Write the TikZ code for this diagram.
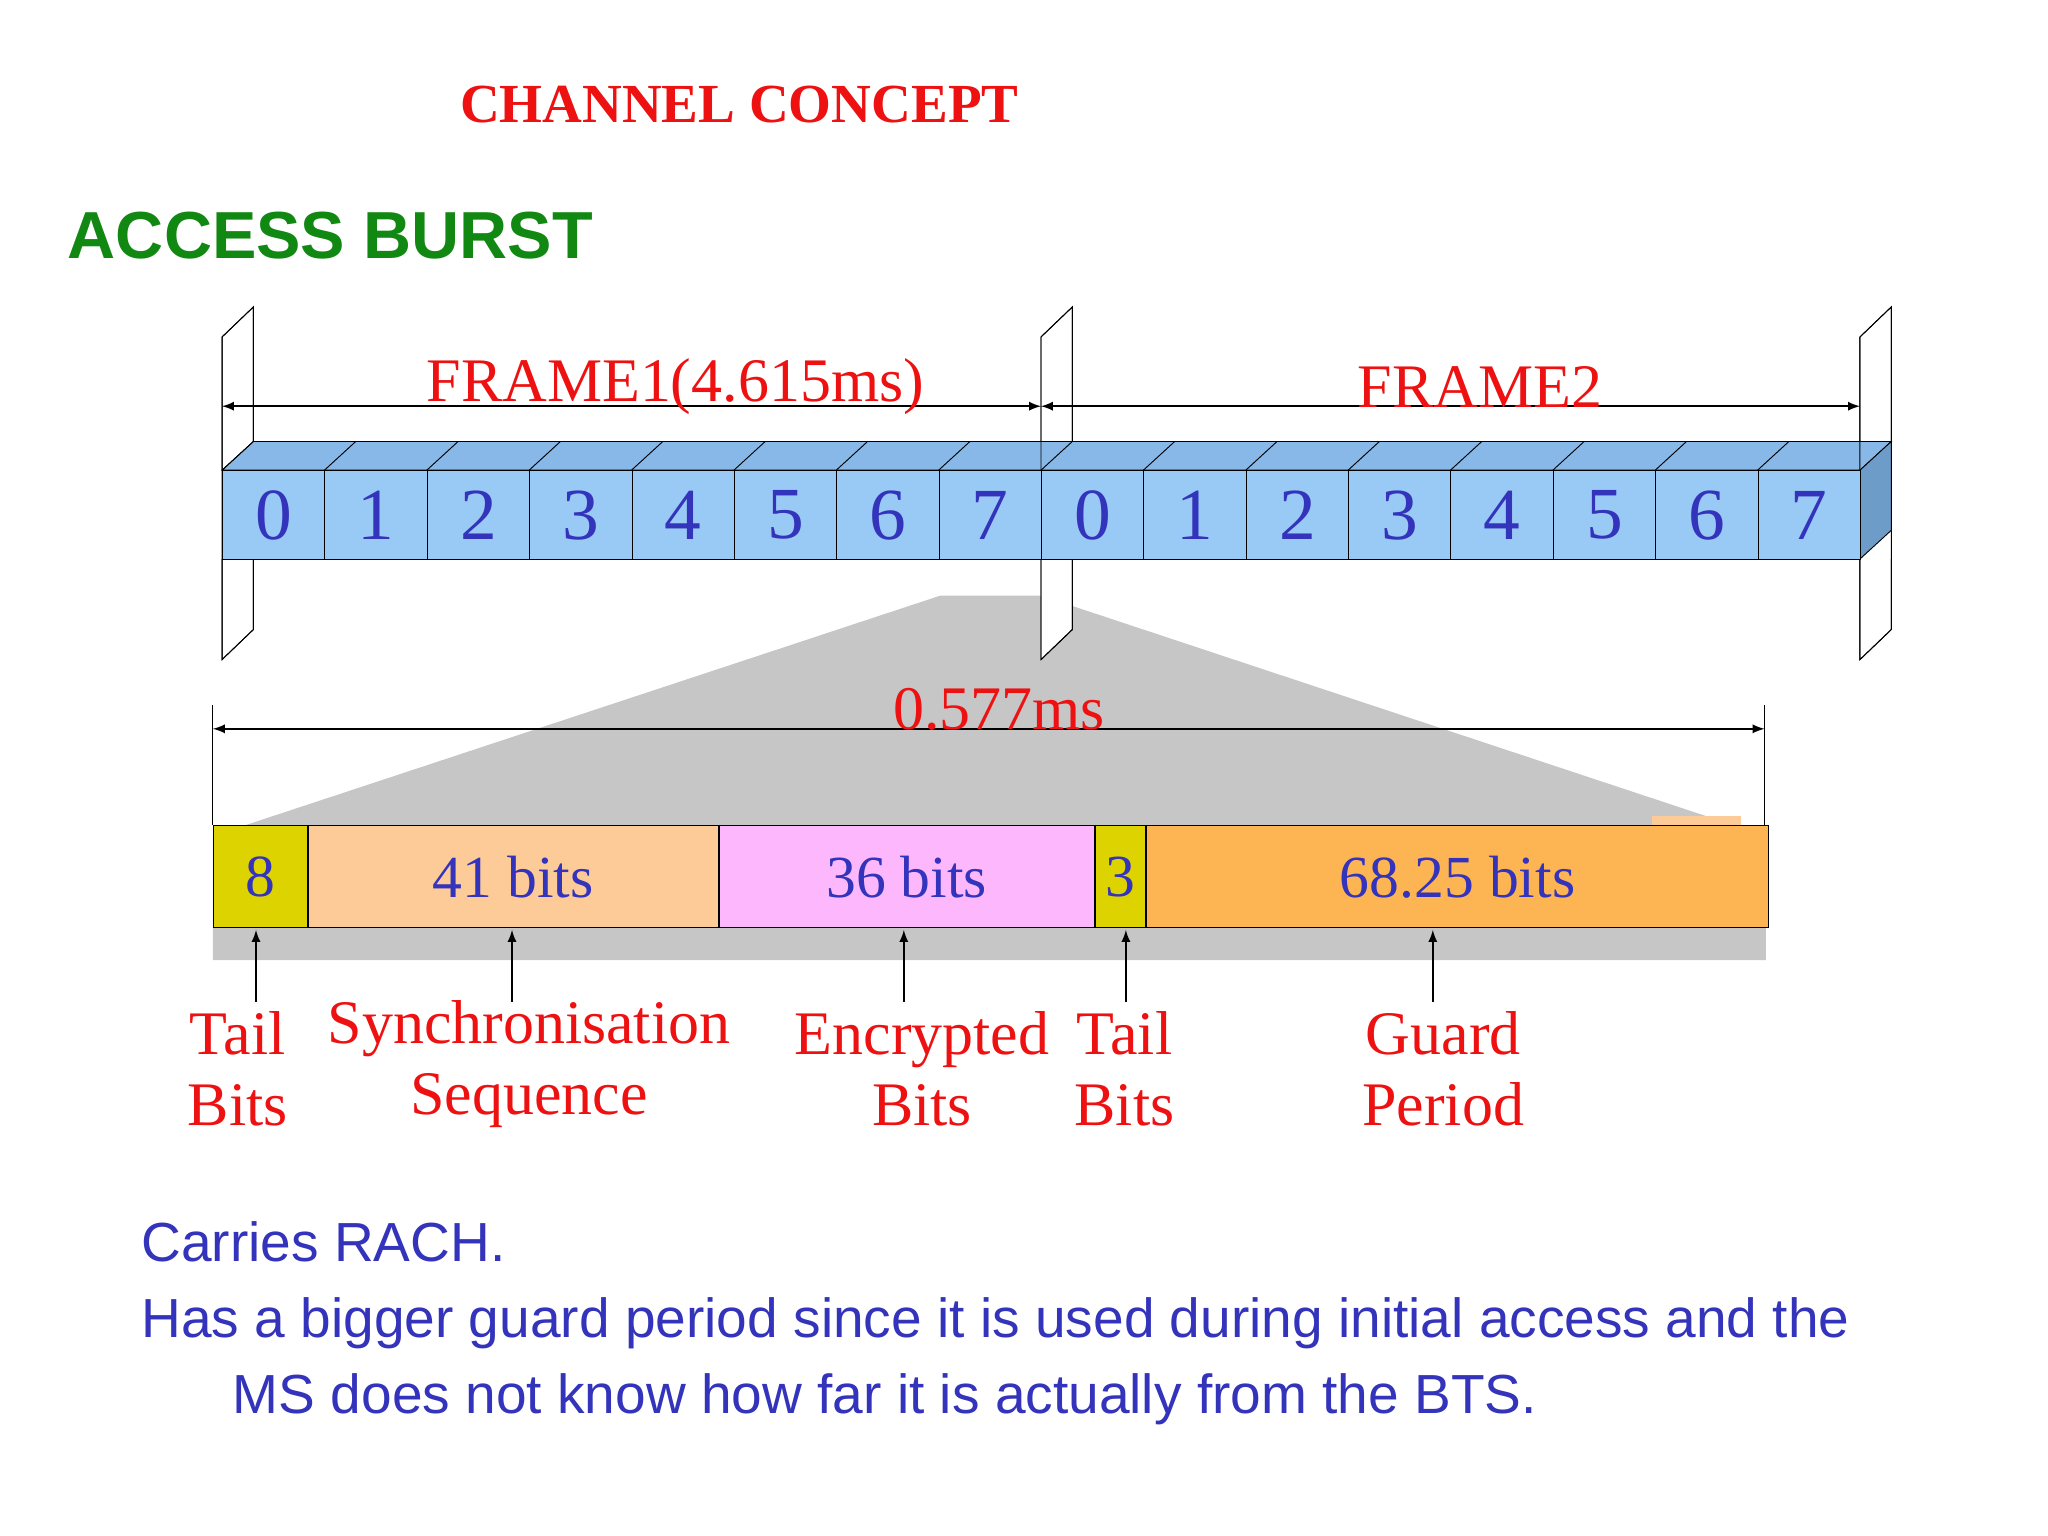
\documentclass[tikz,border=0pt]{standalone}
\usepackage{fontspec}
\setmainfont{Liberation Serif}
\newfontfamily\sansf{Liberation Sans}
\usetikzlibrary{positioning}
\definecolor{slotblue}{HTML}{99C9F5}
\definecolor{slottop}{HTML}{88B8E8}
\definecolor{slotside}{HTML}{6E9CC9}
\definecolor{digblue}{HTML}{3333BB}
\definecolor{tailyel}{HTML}{DDD300}
\definecolor{syncpch}{HTML}{FDCB98}
\definecolor{encpink}{HTML}{FDB8FD}
\definecolor{guardor}{HTML}{FDB553}
\definecolor{titred}{HTML}{EE1111}
\definecolor{titgreen}{HTML}{118811}
\tikzset{
  slot/.style={draw, fill=slotblue, minimum width=1.568cm, minimum height=1.36cm, inner sep=0pt, anchor=north west,
    text=digblue, font=\fontsize{32}{32}\selectfont},
  field/.style={draw, minimum height=1.56cm, inner sep=0pt, anchor=north west, text=digblue,
    font=\fontsize{26}{26}\selectfont},
  lbl/.style={text=titred, align=center, font=\fontsize{27}{31}\selectfont},
  frm/.style={text=titred, font=\fontsize{27}{27}\selectfont},
  dim/.style={<->, >=latex, thick}
}
\begin{document}
\begin{tikzpicture}[x=0.02cm, y=-0.02cm]
\useasboundingbox (0,0) rectangle (1568,1176);
% titles
\node[text=titred, font=\fontsize{24}{24}\selectfont\bfseries] (title) at (566,80) {CHANNEL CONCEPT};
\node[text=titgreen, font=\sansf\fontsize{29}{29}\selectfont\bfseries] (access) at (253,180) {ACCESS BURST};
% zoom shadow
\fill[gray!45] (720,456) -- (797,456) -- (1352,640) -- (1352,735) -- (163,735) -- (163,640) -- cycle;
\fill[syncpch] (1265,625) rectangle (1333,632);
% frame planes, back half
\foreach \x/\n in {170/pa,797/pb,1424/pc}{
  \draw[fill=white] (\x,258) -- (\x+24,235) -- (\x+24,482) -- (\x,505) -- cycle;
}
% slots
\fill[slottop, draw=black] (170,360) -- (194,338) -- (1448,338) -- (1424,360) -- cycle;
\fill[slotside, draw=black] (1424,360) -- (1448,338) -- (1448,406) -- (1424,428) -- cycle;
\foreach \i in {0,...,15}{
  \pgfmathtruncatemacro{\d}{mod(\i,8)}
  \node[slot] (s\i) at ({170+78.375*\i},360) {\d};
  \draw ({170+78.375*\i},360) -- ({194+78.375*\i},338);
}
\foreach \x in {170,797,1424}{
  \draw (\x,360) -- (\x,258) -- (\x+24,235) -- (\x+24,338);
  \draw (\x,428) -- (\x,505) -- (\x+24,482) -- (\x+24,428);
}
% frame dimensions
\coordinate (fa) at (170,311);
\coordinate (fb) at (797,311);
\coordinate (fc) at (1424,311);
\draw[dim] (fa) -- (fb);
\draw[dim] (fb) -- (fc);
\node[frm] (f1) at (517,296) {FRAME1(4.615ms)};
\node[frm] (f2) at (1133,296) {FRAME2};
% burst
\node[field, fill=tailyel, minimum width=1.44cm] (t1) at (163,632) {8};
\node[field, fill=syncpch, minimum width=6.28cm, right=0pt of t1] (sync) {41 bits};
\node[field, fill=encpink, minimum width=5.74cm, right=0pt of sync] (enc) {36 bits};
\node[field, fill=tailyel, minimum width=0.78cm, right=0pt of enc] (t2) {3};
\node[field, fill=guardor, minimum width=9.52cm, right=0pt of t2] (guard) {68.25 bits};
\coordinate (ba) at (163,558);
\coordinate (bb) at (1351,558);
\draw (163,540) -- (163,632);
\draw (1351,540) -- (1351,632);
\draw[dim] (ba) -- (bb);
\node[frm] (bt) at (765,543) {0.577ms};
% labels
\node[lbl] (l1) at (182,818) {Tail\\Bits};
\node[lbl] (l2) at (405,815) {Synchronisation\\Sequence};
\node[lbl] (l3) at (706,818) {Encrypted\\Bits};
\node[lbl] (l4) at (861,818) {Tail\\Bits};
\node[lbl] (l5) at (1105,818) {Guard\\Period};
\foreach \x/\n in {196/l1,392/l2,692/l3,862/l4,1097/l5}{
  \draw[->, >=latex, thick] (\x,767) -- (\x,712);
}
% notes
\begin{scope}[every node/.style={anchor=base west, text=digblue, inner sep=0pt, font=\sansf\fontsize{24}{24}\selectfont}]
\node (n1) at (108,966) {Carries RACH.};
\node (n2) at (108,1024) {Has a bigger guard period since it is used during initial access and the};
\node (n3) at (178,1082) {MS does not know how far it is actually from the BTS.};
\end{scope}
\end{tikzpicture}
\end{document}
